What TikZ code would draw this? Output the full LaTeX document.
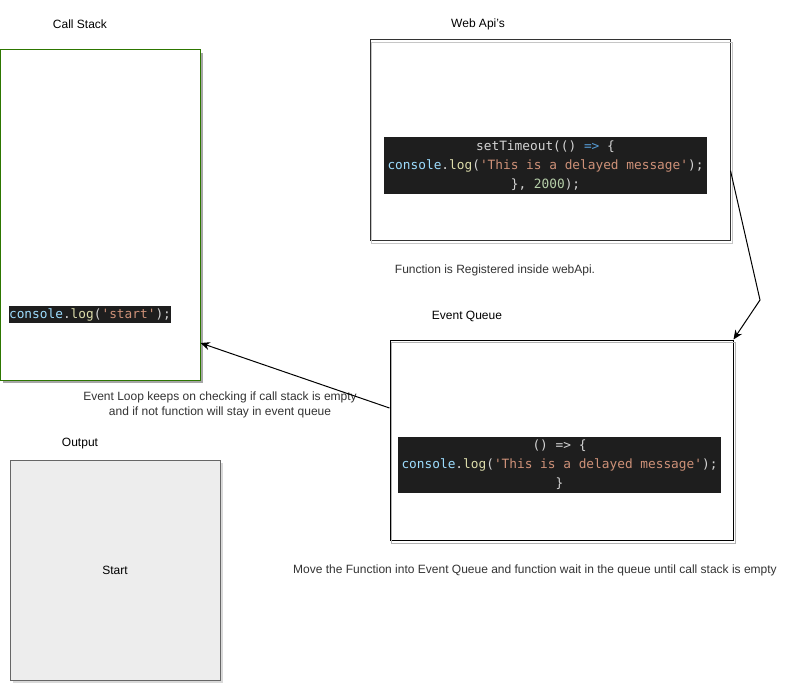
\documentclass[tikz,border=0pt]{standalone}
\usepackage{fontspec}
\setmainfont{Liberation Sans}
\setmonofont{DejaVu Sans Mono}
\usetikzlibrary{arrows.meta}

\definecolor{codebg}{HTML}{1E1E1E}
\definecolor{codefg}{HTML}{D4D4D4}
\definecolor{jsvar}{HTML}{9CDCFE}
\definecolor{jsfn}{HTML}{DCDCAA}
\definecolor{jsstr}{HTML}{CE9178}
\definecolor{jsnum}{HTML}{B5CEA8}
\definecolor{jskw}{HTML}{569CD6}
\definecolor{stackgreen}{HTML}{2D7600}
\definecolor{labelgray}{HTML}{333333}

\newcommand{\jslog}{\textcolor{jsvar}{console}.\textcolor{jsfn}{log}(}

\begin{document}
\begin{tikzpicture}[x=0.75pt, y=-0.75pt]
\tikzstyle{heading}=[font=\fontsize{9}{11}\selectfont, text=black, inner sep=0pt]
\tikzstyle{note}=[font=\fontsize{9}{11.5}\selectfont, text=labelgray, inner sep=0pt, align=center]
\tikzstyle{panel}=[rectangle, inner sep=0pt, line width=0.75pt]
\tikzstyle{code}=[rectangle, fill=codebg, text=codefg, inner sep=0pt, align=center,
  font=\ttfamily\fontsize{9.6}{14.25}\selectfont]
\tikzstyle{flow}=[-{Stealth[length=7pt, width=6pt]}, line width=0.75pt]

\useasboundingbox (0,0) rectangle (791,684);

% call stack
\fill[gray!70] (3,53) rectangle (203,383);
\node[panel, draw=stackgreen, fill=white, minimum width=150pt, minimum height=247.5pt] (callstack) at (100,215) {};
\node[heading] (callstacklbl) at (80,24) {Call Stack};
\node[code, minimum width=121.5pt, minimum height=12.75pt] (startcode) at (90,314.5) {\jslog\textcolor{jsstr}{'start'});};

% web api
\node[panel, draw=black!80, minimum width=270pt, minimum height=150pt] (webapi) at (550,140) {};
\draw[gray!45, line width=0.75pt] ([shift={(1.5pt,-2pt)}]webapi.north west) rectangle ([shift={(1.5pt,-2.25pt)}]webapi.south east);
\node[heading] (webapilbl) at (478,24) {Web Api's};
\node[code, minimum width=242.25pt, minimum height=42.75pt] (timercode) at (545.5,165.5)
  {setTimeout(() \textcolor{jskw}{=>} \{\\ \jslog\textcolor{jsstr}{'This is a delayed message'});\\ \}, \textcolor{jsnum}{2000});};
\node[note] (registered) at (495,270) {Function is Registered inside webApi.};

% event queue
\node[panel, draw=black, minimum width=257.25pt, minimum height=150pt] (eventq) at (561.5,440) {};
\draw[gray!60, line width=0.75pt] ([shift={(1.5pt,-2pt)}]eventq.north west) rectangle ([shift={(1.5pt,-2.25pt)}]eventq.south east);
\node[heading] (eventqlbl) at (467,316) {Event Queue};
\node[code, minimum width=242.25pt, minimum height=42pt] (queuecode) at (559.5,465)
  {() => \{\\ \jslog\textcolor{jsstr}{'This is a delayed message'});\\ \}};
\node[note] (movenote) at (535,570) {Move the Function into Event Queue and function wait in the queue until call stack is empty};

% output
\fill[gray!30] (13,463) rectangle (223,683);
\node[panel, draw=black!60, fill=black!7, minimum width=157.5pt, minimum height=165pt, font=\fontsize{9}{11}\selectfont] (output) at (115,570) {Start};
\node[heading] (outputlbl) at (80,444) {Output};

\node[note] (loopnote) at (220,405) {Event Loop keeps on checking if call stack is empty\\and if not function will stay in event queue};

% connectors
\coordinate (bend) at (760,300);
\draw[flow] ([yshift=-23pt]webapi.east) -- (bend) -- (eventq.north east);
\draw[flow] ([yshift=24pt]eventq.west) -- ([yshift=-96pt]callstack.east);
\end{tikzpicture}
\end{document}
